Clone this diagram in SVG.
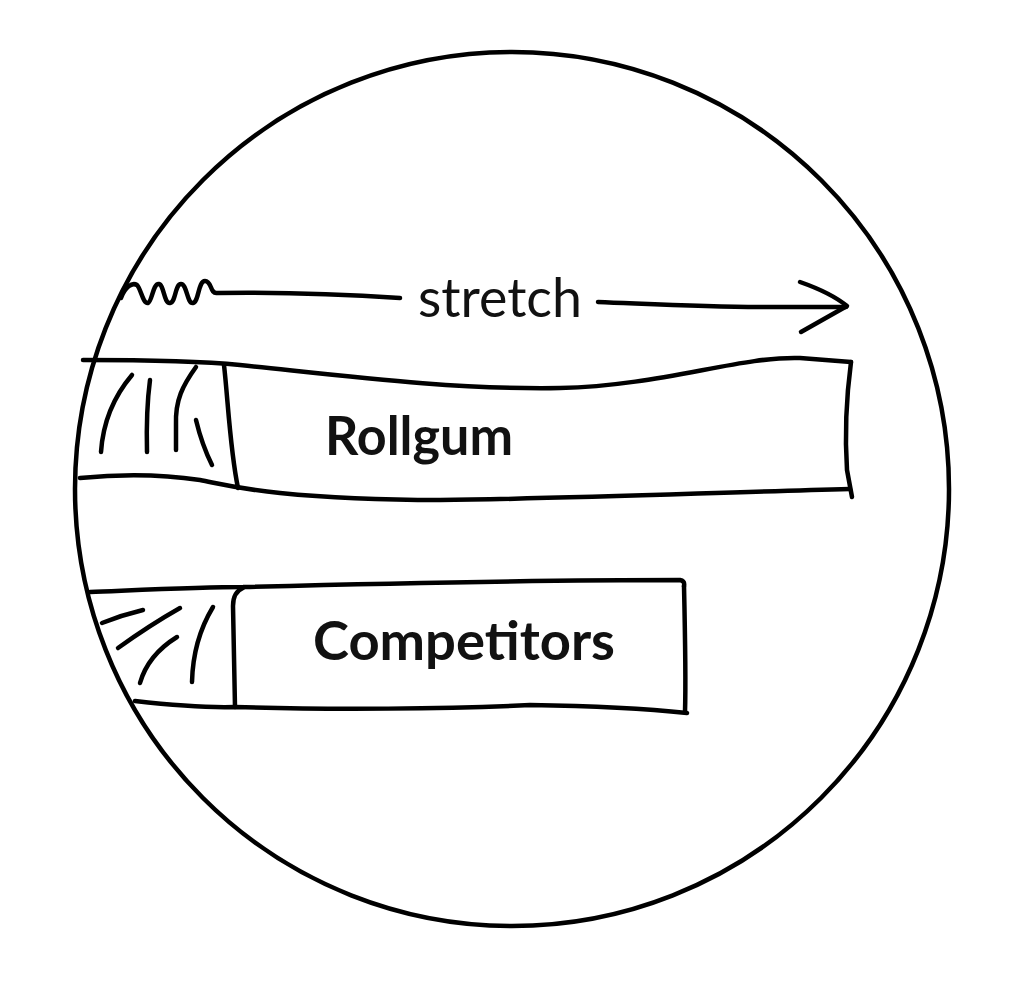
<svg xmlns="http://www.w3.org/2000/svg" width="1024" height="994" viewBox="0 0 1024 994">
<style>
.s{fill:none;stroke:#000;stroke-width:4.5;stroke-linecap:round;stroke-linejoin:round}
.t{font-family:Lato,"Liberation Sans",sans-serif;fill:#111}
.b{font-weight:700;font-size:53px}
.r{font-weight:400;font-size:54px}
</style>
<rect width="1024" height="994" fill="#fff"/>
<g id="frame">
<circle class="s" cx="512" cy="489" r="437"/>
</g>
<g id="connectors">
<path class="s" d="M121,298 C125,287 132,282 137,285 C141,289 143,304 148,303 C152,302 153,283 159,284 C164,285 164,304 170,303 C176,302 175,284 181,284 C187,284 187,304 193,303 C199,302 198,281 205,281 C212,281 210,294 217,293 C280,292 340,294 400,298"/>
<path class="s" d="M598,302 C650,304 700,307 760,307 L846,307"/>
<path class="s" d="M800,282 C820,289 836,297 847,306 L801,332"/>
</g>
<g id="stretch-label">
<text class="t r" x="418" y="317" textLength="164" lengthAdjust="spacingAndGlyphs">stretch</text>
</g>
<g id="rollgum">
<path class="s" d="M83,360 C150,360 200,361 240,365 C330,374 450,390 560,388 C660,386 740,356 800,358 L851,362"/>
<path class="s" d="M851,362 C846,400 845,440 847,470 L852,497"/>
<path class="s" d="M80,478 C120,474 160,474 200,480 C225,485 240,489 280,493 C330,498 380,500 440,500 C560,499 700,493 850,489"/>
<path class="s" d="M224,365 C228,400 230,450 238,488"/>
<path class="s" d="M132,375 Q104,408 101,452"/>
<path class="s" d="M150,380 Q146,410 147,452"/>
<path class="s" d="M196,367 C183,385 175,400 176,425 L176,450"/>
<path class="s" d="M196,420 Q202,445 212,465"/>
<text class="t b" x="325" y="455" textLength="188" lengthAdjust="spacingAndGlyphs">Rollgum</text>
</g>
<g id="competitors">
<path class="s" d="M90,592 C140,590 200,587 243,587 C400,583 560,580 680,580 Q685,581 684,586"/>
<path class="s" d="M684,586 C685,630 686,680 685,712"/>
<path class="s" d="M135,701 C170,705 200,708 235,707 C330,710 450,709 530,705 C600,706 650,709 687,713"/>
<path class="s" d="M243,588 Q233,592 233,606 L235,707"/>
<path class="s" d="M102,623 Q122,615 143,610"/>
<path class="s" d="M118,648 Q150,625 180,608"/>
<path class="s" d="M140,683 Q148,655 177,637"/>
<path class="s" d="M192,682 Q193,640 213,607"/>
<text class="t b" x="313" y="660" textLength="302" lengthAdjust="spacingAndGlyphs">Competitors</text>
</g>
</svg>
